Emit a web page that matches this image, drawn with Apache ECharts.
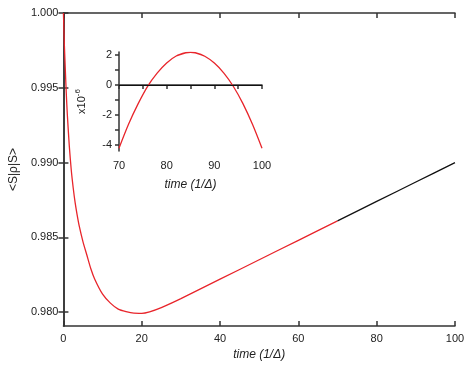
<!DOCTYPE html>
<html>
<head>
<meta charset="utf-8">
<script src="https://cdn.jsdelivr.net/npm/echarts@6/dist/echarts.min.js"></script>
<style>
  html, body { margin: 0; padding: 0; background: #fff; }
  #chart { width: 474px; height: 366px; }
</style>
</head>
<body>
<div id="chart"></div>
<script>
// main curve <S|rho|S> vs time
const mainTime  = [0, 0.25, 0.5, 0.75, 1, 1.5, 2, 2.5, 3, 3.5, 4, 5, 6, 7, 8, 10, 12, 14, 16, 18, 20, 22, 25, 30, 40, 50, 60, 70, 80, 90, 100];
const mainValue = [1.0000, 0.9978, 0.9961, 0.9945, 0.9932, 0.9911, 0.9895, 0.9883, 0.9873, 0.9865, 0.9858, 0.9847, 0.9838, 0.9829, 0.9822, 0.9812, 0.9806, 0.9802, 0.98003, 0.97993, 0.97992, 0.98002, 0.9803, 0.9809, 0.9822, 0.9835, 0.9848, 0.9861, 0.9874, 0.9887, 0.9900];
const splitTime = 70; // past this the curve is drawn black (the inset range)

// inset: deviation, x10^-6
const insetTime  = [70, 72, 74, 76, 78, 80, 82, 84, 85, 86, 88, 90, 92, 94, 96, 98, 100];
const insetValue = [-4.22, -2.62, -1.26, -0.09, 0.79, 1.47, 1.93, 2.15, 2.18, 2.15, 1.92, 1.46, 0.79, -0.10, -1.24, -2.62, -4.22];

const mainYLabels  = [0.980, 0.985, 0.990, 0.995, 1.000];
const insetYLabels = [-4, -2, 0, 2];
const insetYTicks  = [-4, -3, -2, -1, 0, 1, 2];
const insetXTicks  = [70, 75, 80, 85, 90, 95, 100];

const font = '"Liberation Sans", Arial, sans-serif';
const ink = '#333';
const red = '#e8252b';

const pairs = (xs, ys) => xs.map((x, i) => [x, ys[i]]);
const mainPairs = pairs(mainTime, mainValue);

const chart = echarts.init(document.getElementById('chart'));

const lineStyleAxis = { color: ink, width: 1.5 };

chart.setOption({
  animation: false,
  backgroundColor: '#fff',
  grid: [
    { left: 58, right: 19, top: 13, bottom: 39, show: false },
    { left: 119, top: 52, width: 143, height: 99, show: false }
  ],
  xAxis: [
    {
      gridIndex: 0, type: 'value', min: 0, max: 100, interval: 20,
      axisLine: { lineStyle: lineStyleAxis },
      axisTick: { inside: true, length: 5, lineStyle: lineStyleAxis },
      axisLabel: { color: '#222', fontSize: 11, fontFamily: font, margin: 7 },
      splitLine: { show: false },
      name: 'time (1/\u0394)', nameLocation: 'middle', nameGap: 23,
      nameTextStyle: { color: '#222', fontSize: 12, fontStyle: 'italic', fontFamily: font }
    },
    {
      gridIndex: 0, type: 'value', min: 0, max: 100, interval: 20, position: 'top',
      axisLine: { lineStyle: lineStyleAxis },
      axisTick: { inside: true, length: 5, lineStyle: lineStyleAxis },
      axisLabel: { show: false },
      splitLine: { show: false }
    },
    {
      gridIndex: 1, type: 'value', min: 70, max: 100,
      axisLine: { lineStyle: lineStyleAxis },
      axisTick: { inside: false, length: 4, customValues: insetXTicks, lineStyle: lineStyleAxis },
      axisLabel: { color: '#222', fontSize: 11, fontFamily: font, margin: 9, customValues: [70, 80, 90, 100] },
      splitLine: { show: false },
      name: 'time (1/\u0394)', nameLocation: 'middle', nameGap: 28,
      nameTextStyle: { color: '#222', fontSize: 12, fontStyle: 'italic', fontFamily: font }
    }
  ],
  yAxis: [
    {
      gridIndex: 0, type: 'value', min: 0.97907, max: 1.0,
      axisLine: { lineStyle: lineStyleAxis },
      axisTick: { inside: true, length: 5, customValues: mainYLabels, lineStyle: lineStyleAxis },
      axisLabel: {
        color: '#222', fontSize: 11, fontFamily: font, margin: 5,
        customValues: mainYLabels, formatter: v => v.toFixed(3)
      },
      splitLine: { show: false },
      name: '<S|\u03c1|S>', nameLocation: 'middle', nameGap: 42, nameRotate: 90,
      nameTextStyle: { color: '#222', fontSize: 12, fontFamily: font }
    },
    {
      gridIndex: 0, type: 'value', min: 0.97907, max: 1.0, position: 'right',
      axisLine: { lineStyle: lineStyleAxis },
      axisTick: { inside: true, length: 5, customValues: mainYLabels, lineStyle: lineStyleAxis },
      axisLabel: { show: false },
      splitLine: { show: false }
    },
    {
      gridIndex: 1, type: 'value', min: -4.4, max: 2.2,
      axisLine: { lineStyle: lineStyleAxis },
      axisTick: { inside: false, length: 4, customValues: insetYTicks, lineStyle: lineStyleAxis },
      axisLabel: { color: '#222', fontSize: 11, fontFamily: font, margin: 7, customValues: insetYLabels },
      splitLine: { show: false },
      name: '{a|x10}{b|-6}', nameLocation: 'middle', nameGap: 29, nameRotate: 90,
      nameTextStyle: {
        color: '#222', fontFamily: font,
        rich: {
          a: { fontSize: 11, fontFamily: font, color: '#222' },
          b: { fontSize: 8, fontFamily: font, color: '#222', padding: [0, 0, 8, 0] }
        }
      }
    }
  ],
  series: [
    {
      type: 'line', xAxisIndex: 0, yAxisIndex: 0, showSymbol: false, smooth: 0.25,
      data: mainPairs.filter(p => p[0] <= splitTime),
      lineStyle: { color: red, width: 1.3 }
    },
    {
      type: 'line', xAxisIndex: 0, yAxisIndex: 0, showSymbol: false, smooth: 0.25,
      data: mainPairs.filter(p => p[0] >= splitTime),
      lineStyle: { color: '#111', width: 1.3 }
    },
    {
      type: 'line', xAxisIndex: 2, yAxisIndex: 2, showSymbol: false, smooth: 0.3,
      data: pairs(insetTime, insetValue),
      lineStyle: { color: red, width: 1.3 },
      markLine: {
        silent: true, symbol: 'none', label: { show: false },
        lineStyle: { color: '#111', width: 1.2, type: 'solid' },
        data: [{ yAxis: 0 }]
      }
    }
  ]
});
</script>
</body>
</html>
